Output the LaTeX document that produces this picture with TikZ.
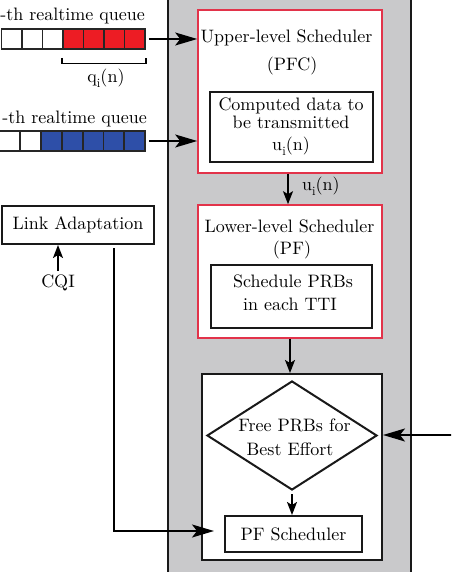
\documentclass[tikz,border=0pt]{standalone}
\usepackage{fontspec}
\setmainfont{lmroman10-regular}[Extension=.otf]
\usetikzlibrary{arrows.meta,shapes.geometric}
\definecolor{qred}{RGB}{237,28,36}
\definecolor{qblue}{RGB}{46,79,168}
\definecolor{bred}{RGB}{226,51,74}
\definecolor{panelgray}{RGB}{201,201,203}
\newcommand{\sbi}{\raisebox{-5pt}{\fontsize{12.6}{12.6}\selectfont i}}
\begin{document}
\begin{tikzpicture}[x=1pt,y=-1pt,
  txt/.style={font=\fontsize{18}{22}\selectfont, inner sep=0pt, anchor=base},
  blkbox/.style={draw=black!90, line width=2pt, fill=white, inner sep=0pt},
  redbox/.style={draw=bred, line width=1.6pt, fill=white, inner sep=0pt},
  cell/.style={draw=black!85, line width=1.8pt, inner sep=0pt, minimum height=20pt},
  harr/.style={-{Stealth[length=22pt,width=13pt,inset=5pt]}, line width=1.8pt},
  varr/.style={-{Stealth[length=13pt,width=10pt,inset=3pt]}, line width=1.8pt}]
\useasboundingbox (0,0) rectangle (451,572);
\clip (0,0) rectangle (451,572);
% central panel
\node[draw=black!90, line width=2pt, fill=panelgray, minimum width=243pt, minimum height=600pt, inner sep=0pt] (panel) at (289.5,286) {};
% queues
\foreach \i in {1,...,7}{
  \pgfmathsetmacro{\cx}{1.5+10.25+20.5*(\i-1)}
  \ifnum\i<4 \def\fc{white}\else\def\fc{qred}\fi
  \node[cell, fill=\fc, minimum width=20.5pt] (qa\i) at (\cx,39) {};
}
\foreach \i in {1,...,7}{
  \pgfmathsetmacro{\cx}{-0.5+10.4+20.8*(\i-1)}
  \ifnum\i<3 \def\fc{white}\else\def\fc{qblue}\fi
  \node[cell, fill=\fc, minimum width=20.8pt] (qb\i) at (\cx,141) {};
}
\node[txt, anchor=base east] (qla) at (145,21) {-th realtime queue};
\node[txt, anchor=base east] (qlb) at (147,124) {-th realtime queue};
\draw[line width=1.5pt] ([yshift=-8pt]qa4.south west) -- ([yshift=-13.5pt]qa4.south west) -- ([yshift=-13.5pt]qa7.south east) -- ([yshift=-8pt]qa7.south east);
\node[txt] (qlab) at (106,83) {q\sbi(n)};
% upper scheduler
\node[redbox, minimum width=184pt, minimum height=163pt] (upper) at (290,91.5) {};
\node[txt] (up1) at (286.5,43) {Upper-level Scheduler};
\node[txt] (up2) at (292,71) {(PFC)};
\node[blkbox, minimum width=163pt, minimum height=70pt] (comp) at (291,127.5) {};
\node[txt] (c1) at (291,111) {Computed data to};
\node[txt] (c2) at (291,129) {be transmitted};
\node[txt] (c3) at (291,151) {u\sbi(n)};
% lower scheduler
\node[redbox, minimum width=184pt, minimum height=133pt] (lower) at (290,271.5) {};
\node[txt] (lo1) at (289.5,232) {Lower-level Scheduler};
\node[txt] (lo2) at (292,254) {(PF)};
\node[blkbox, minimum width=161pt, minimum height=63pt] (sched) at (291.5,296.5) {};
\node[txt] (s1) at (293,287.5) {Schedule PRBs};
\node[txt] (s2) at (290,310.5) {in each TTI};
% bottom box
\node[blkbox, minimum width=180pt, minimum height=186pt] (bottom) at (292,467) {};
\node[diamond, draw=black!90, line width=2pt, fill=white, inner sep=0pt, minimum width=170pt, minimum height=109pt] (diam) at (292,435.5) {};
\node[txt] (d1) at (294.5,431.5) {Free PRBs for};
\node[txt] (d2) at (290,455.5) {Best Effort};
\node[blkbox, minimum width=137pt, minimum height=36pt, font=\fontsize{18}{22}\selectfont] (pf) at (293.5,534) {PF Scheduler};
% link adaptation
\node[blkbox, minimum width=152pt, minimum height=38pt, font=\fontsize{18}{22}\selectfont] (link) at (78,225) {Link Adaptation};
\node[txt] (cqi) at (58,287) {CQI};
% connectors
\draw[harr] ([xshift=3pt]qa7.east) -- (qa7.east -| upper.west);
\draw[harr] ([xshift=3pt]qb7.east) -- (qb7.east -| upper.west);
\draw[varr] ([xshift=-2pt]upper.south) -- ([xshift=-2pt]lower.north);
\node[txt, anchor=base west] (ulab) at (302,190) {u\sbi(n)};
\draw[varr] (lower.south) -- (lower.south |- bottom.north);
\draw[varr] ([yshift=-3pt]diam.south) -- (pf.north -| diam.south);
\coordinate (rin) at (455,435);
\draw[harr] (rin) -- (rin -| bottom.east);
\draw[varr] ([yshift=3pt]cqi.north) -- (cqi.north |- link.south);
\coordinate (lfx) at (114,0);
\draw[harr, shorten <=3pt] (link.south -| lfx) |- ([xshift=-10pt,yshift=3pt]pf.west);
\end{tikzpicture}
\end{document}
